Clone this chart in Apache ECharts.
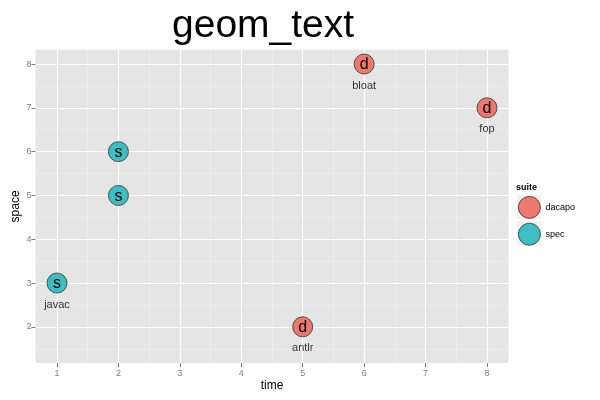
<!DOCTYPE html>
<html><head><meta charset="utf-8">
<script src="https://cdn.jsdelivr.net/npm/echarts@6/dist/echarts.min.js"></script>
<style>html,body{margin:0;padding:0;background:#fff}#c{width:600px;height:400px}</style>
</head><body><div id="c"></div>
<script>
var xTicks = [1,2,3,4,5,6,7,8];
var yTicks = [2,3,4,5,6,7,8];
var xMinor = [1.5,2.5,3.5,4.5,5.5,6.5,7.5];
var yMinor = [1.5,2.5,3.5,4.5,5.5,6.5,7.5];
var suites = ['dacapo','spec'];
var dacapoTime = [6,8,5];
var dacapoSpace = [8,7,2];
var dacapoNames = ['bloat','fop','antlr'];
var specTime = [2,2,1];
var specSpace = [6,5,3];
var specNames = ['','','javac'];
var FONT = '"Liberation Sans", Arial, sans-serif';
function pts(t,s,n){return t.map(function(v,i){return {value:[v,s[i]],name:n[i]};});}
var colors = {dacapo:'#EC786E', spec:'#3EBEC3'};
var chart = echarts.init(document.getElementById('c'), null, {renderer:'canvas'});
function pointSeries(name, data, letter){
  return {type:'scatter', name:name, data:data, symbol:'circle', symbolSize:20, z:3,
    itemStyle:{color:colors[name], borderColor:'#333', borderWidth:0.8, opacity:1},
    label:{show:true, position:'inside', formatter:letter, color:'#000', fontSize:16, fontFamily:FONT, offset:[0,1]},
    emphasis:{disabled:true}};
}
function labelSeries(name, data){
  return {type:'scatter', name:name+'_lbl', data:data, symbol:'circle', symbolSize:20, z:4,
    itemStyle:{color:'rgba(0,0,0,0)'},
    label:{show:true, position:'bottom', distance:6, formatter:function(p){return p.name;}, color:'#000', fontSize:11, fontFamily:FONT},
    emphasis:{disabled:true}, silent:true};
}
var option = {
  animation:false,
  textStyle:{fontFamily:FONT},
  title:[
    {text:'geom_text', left:172, top:7, padding:0, textStyle:{fontSize:39, fontWeight:'normal', color:'#000', fontFamily:FONT}},
    {text:'suite', left:516, top:183, padding:0, textStyle:{fontSize:9, fontWeight:'bold', color:'#000', fontFamily:FONT}}
  ],
  graphic:[
    {type:'rect', shape:{x:517,y:195,width:24,height:24}, style:{fill:'#F2F2F2'}},
    {type:'rect', shape:{x:517,y:221,width:24,height:24}, style:{fill:'#F2F2F2'}}
  ],
  legend:{data:suites, orient:'vertical', left:518, top:196, padding:0, itemWidth:22, itemHeight:22, itemGap:4,
    icon:'circle', textStyle:{fontSize:9, color:'#000', fontFamily:FONT}, selectedMode:false,
    itemStyle:{borderColor:'#333', borderWidth:0.8}},
  grid:{left:35.5, right:91.5, top:49.8, bottom:37, show:true, backgroundColor:'#E5E5E5', borderWidth:0,
    containLabel:false, outerBoundsMode:'none'},
  xAxis:[
    {type:'value', min:0.65, max:8.35, name:'time', nameLocation:'middle', nameGap:17, nameMoveOverlap:false,
     nameTextStyle:{fontSize:12, color:'#000', fontFamily:FONT},
     axisLine:{show:false},
     axisTick:{show:true, length:4, customValues:xTicks, lineStyle:{color:'#7F7F7F'}},
     axisLabel:{customValues:xTicks, color:'#7F7F7F', fontSize:9, margin:6, fontFamily:FONT},
     splitLine:{show:true, lineStyle:{color:'#FFFFFF', width:1.2}}},
    {type:'value', min:0.65, max:8.35, show:true, axisLine:{show:false},
     axisTick:{show:false, customValues:xMinor}, axisLabel:{show:false, customValues:xMinor},
     splitLine:{show:true, lineStyle:{color:'#F2F2F2', width:0.6}}}
  ],
  yAxis:[
    {type:'value', min:1.175, max:8.325, name:'space', nameLocation:'middle', nameGap:14, nameRotate:90, nameMoveOverlap:false,
     nameTextStyle:{fontSize:12, color:'#000', fontFamily:FONT},
     axisLine:{show:false},
     axisTick:{show:true, length:4, customValues:yTicks, lineStyle:{color:'#7F7F7F'}},
     axisLabel:{customValues:yTicks, color:'#7F7F7F', fontSize:9, margin:4, fontFamily:FONT},
     splitLine:{show:true, lineStyle:{color:'#FFFFFF', width:1.2}}},
    {type:'value', min:1.175, max:8.325, show:true, axisLine:{show:false},
     axisTick:{show:false, customValues:yMinor}, axisLabel:{show:false, customValues:yMinor},
     splitLine:{show:true, lineStyle:{color:'#F2F2F2', width:0.6}}}
  ],
  series:[
    pointSeries('dacapo', pts(dacapoTime,dacapoSpace,dacapoNames), 'd'),
    pointSeries('spec', pts(specTime,specSpace,specNames), 's'),
    labelSeries('dacapo', pts(dacapoTime,dacapoSpace,dacapoNames)),
    labelSeries('spec', pts(specTime,specSpace,specNames))
  ]
};
chart.setOption(option);
</script></body></html>
